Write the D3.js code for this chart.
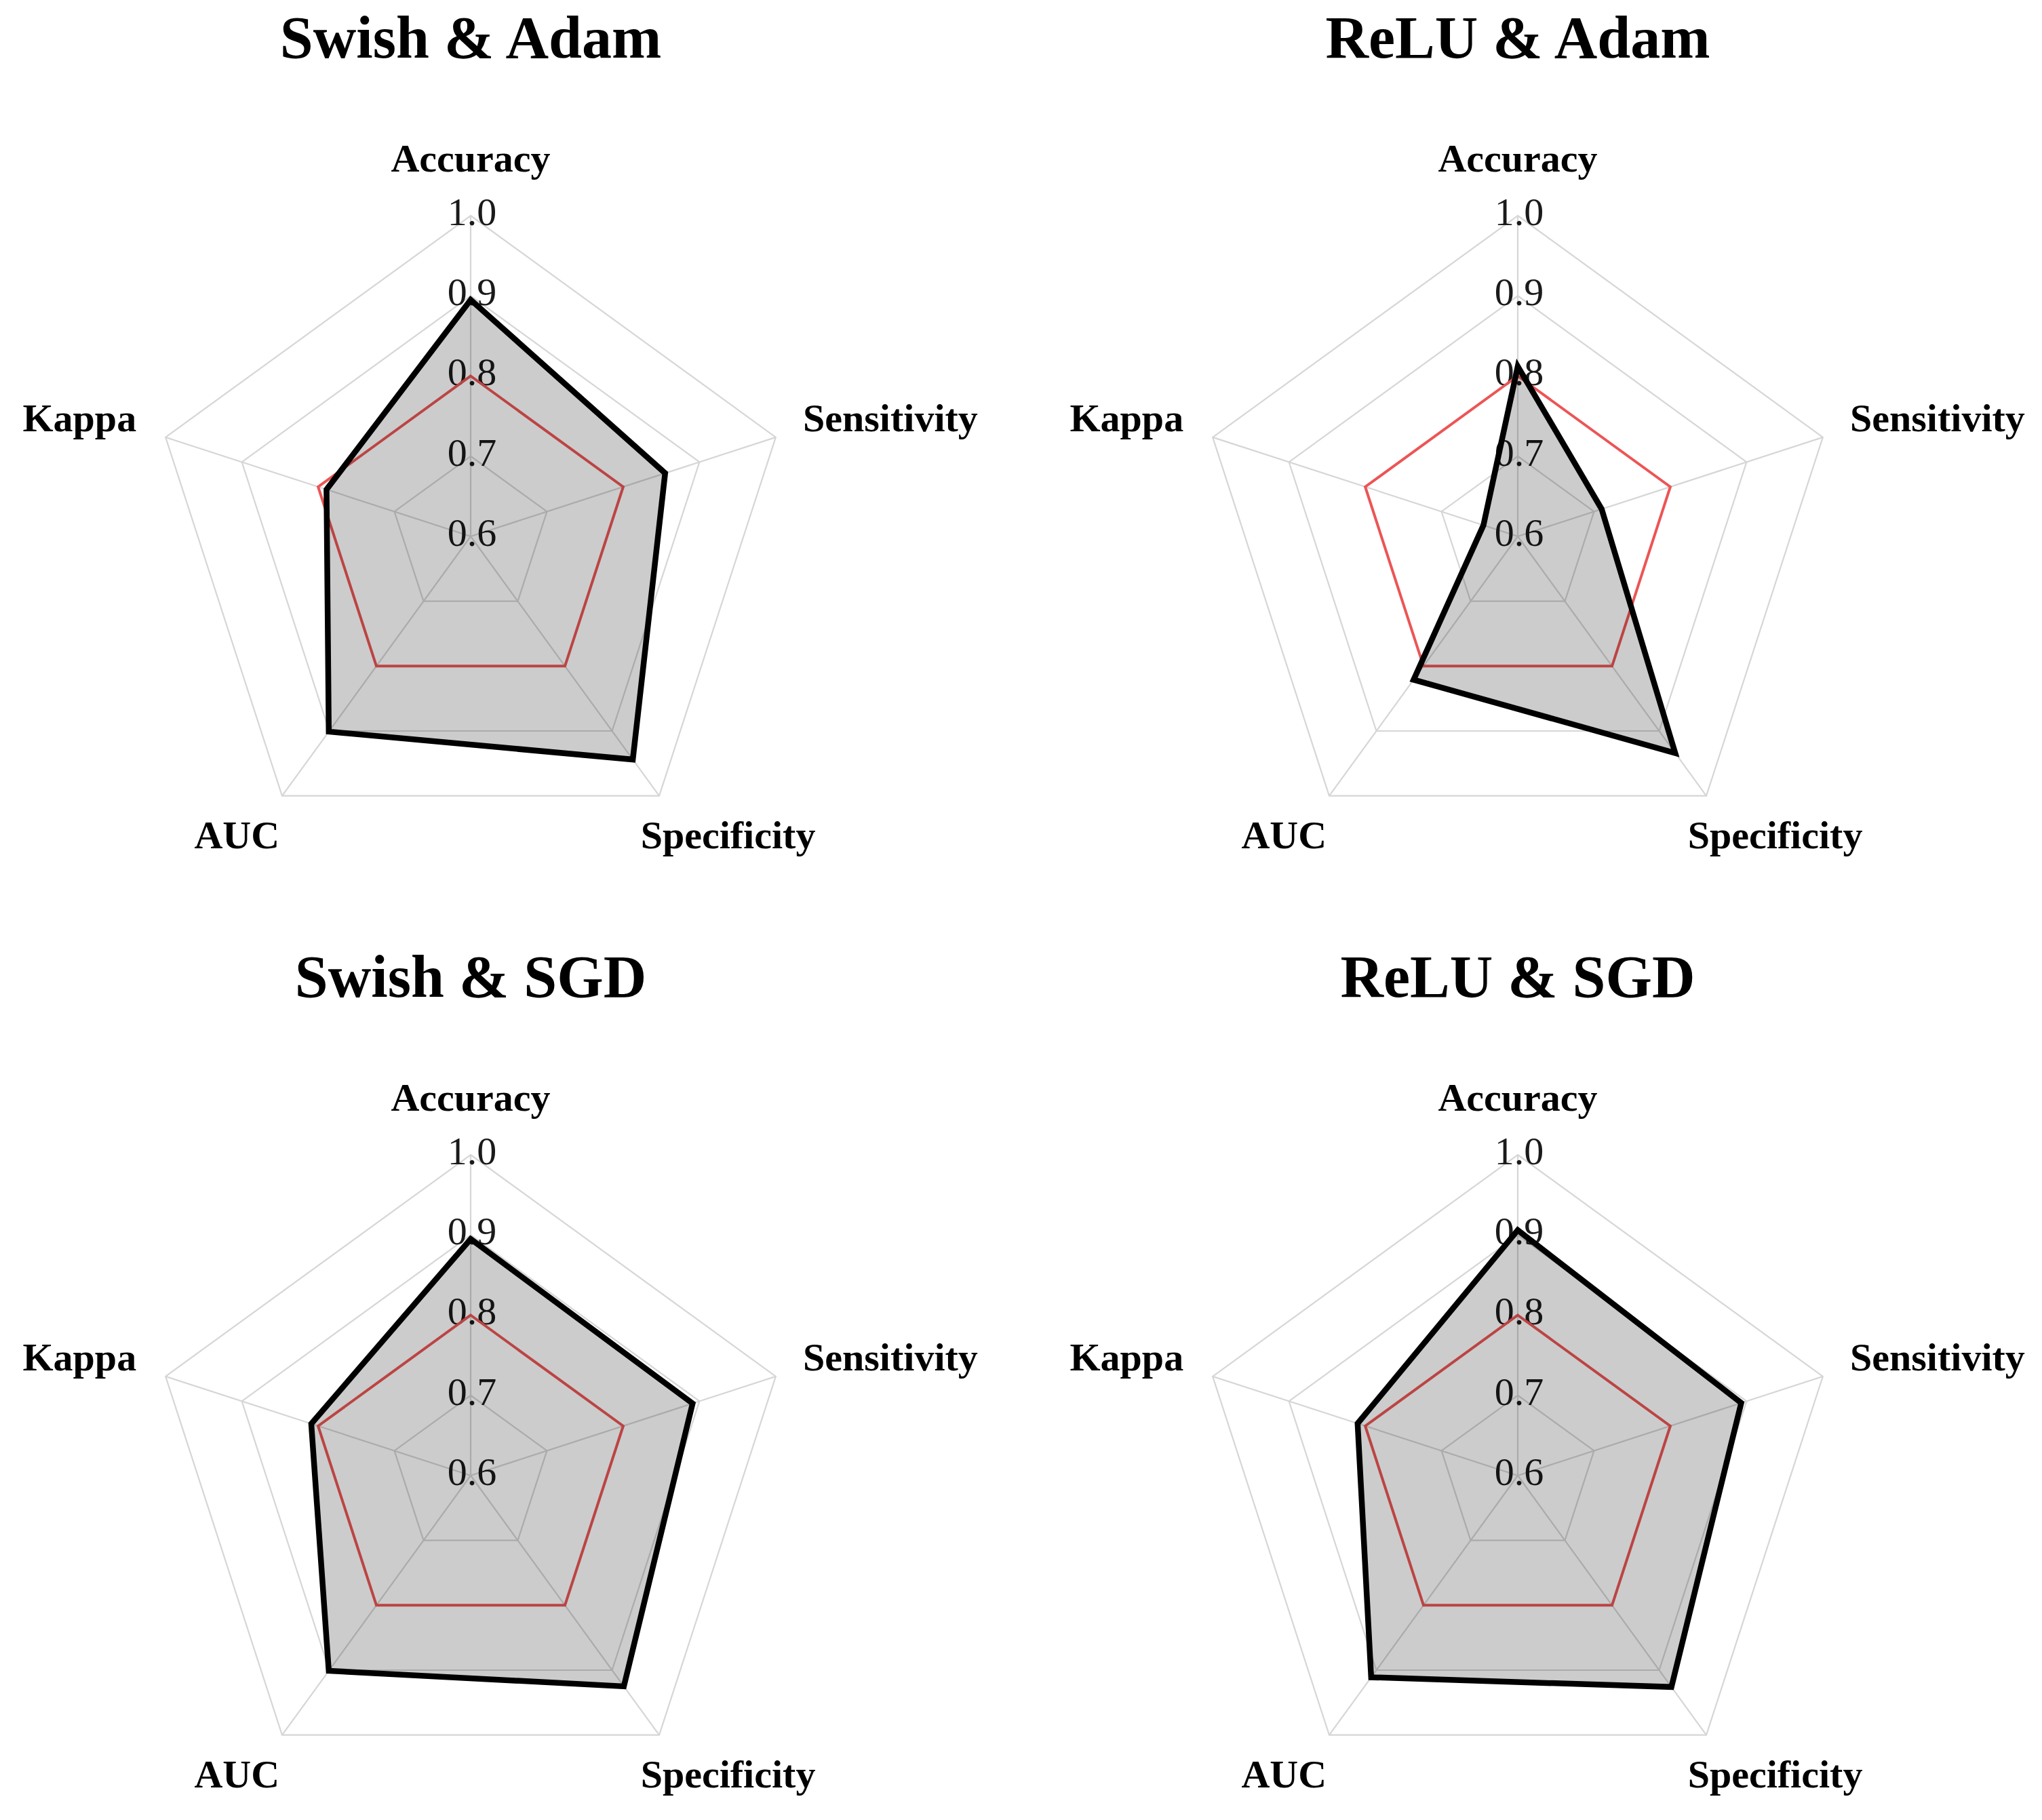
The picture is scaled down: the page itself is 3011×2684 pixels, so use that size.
<!DOCTYPE html>
<html>
<head>
<meta charset="utf-8">
<script src="https://cdn.jsdelivr.net/npm/d3@7"></script>
<style>
  html, body { margin: 0; padding: 0; background: #ffffff; }
  svg { display: block; }
</style>
</head>
<body>
<svg id="chart" width="3011" height="2684"></svg>
<script>
// ---------------- data ----------------
const axesNames = ["Accuracy", "Sensitivity", "Specificity", "AUC", "Kappa"];
const tickValues = [0.6, 0.7, 0.8, 0.9, 1.0];
const tickLabels = ["0.6", "0.7", "0.8", "0.9", "1.0"];
const panelTitles = ["Swish & Adam", "ReLU & Adam", "Swish & SGD", "ReLU & SGD"];
const swishAdam = [0.895, 0.855, 0.944, 0.901, 0.789];
const reluAdam  = [0.812, 0.710, 0.934, 0.821, 0.645];
const swishSgd  = [0.895, 0.891, 0.925, 0.901, 0.809];
const reluSgd   = [0.906, 0.893, 0.926, 0.911, 0.810];
const referenceLine = [0.8, 0.8, 0.8, 0.8, 0.8];
const panelSeries = [swishAdam, reluAdam, swishSgd, reluSgd];

// ---------------- layout ----------------
const W = 3011, H = 2684;
const R = 473;
const centers = [[694, 791], [2238, 791], [694, 2176], [2238, 2176]];
const font = "'Liberation Serif', 'Times New Roman', Times, serif";
// label offsets (relative to center, baseline), in units of R
const labelPos = [
  {x: 0,      y: -1.138, anchor: "middle"},
  {x: 1.036,  y: -0.328, anchor: "start"},
  {x: 0.530,  y: 0.973,  anchor: "start"},
  {x: -0.596, y: 0.973,  anchor: "end"},
  {x: -1.042, y: -0.328, anchor: "end"}
];

const svg = d3.select("#chart");
svg.append("rect").attr("width", W).attr("height", H).attr("fill", "#ffffff");

const r = d3.scaleLinear().domain([0.6, 1.0]).range([0, R]);
const ang = d3.scaleLinear().domain([0, axesNames.length]).range([0, 2 * Math.PI]);
const radial = d3.lineRadial()
  .angle((d, i) => ang(i))
  .radius(d => r(d))
  .curve(d3.curveLinearClosed);

panelTitles.forEach((title, p) => {
  const [cx, cy] = centers[p];
  const g = svg.append("g").attr("transform", `translate(${cx},${cy})`);

  // title
  g.append("text")
    .attr("x", 0).attr("y", 85 - 791)
    .attr("text-anchor", "middle")
    .attr("font-family", font).attr("font-weight", "bold")
    .attr("font-size", 88).attr("fill", "#000")
    .text(title);

  // grid rings
  tickValues.slice(1).forEach(v => {
    g.append("path")
      .attr("d", radial(axesNames.map(() => v)))
      .attr("fill", "none").attr("stroke", "#d6d6d6").attr("stroke-width", 2.2);
  });
  // spokes
  axesNames.forEach((a, i) => {
    const t = ang(i);
    g.append("line")
      .attr("x1", 0).attr("y1", 0)
      .attr("x2", r(1.0) * Math.sin(t)).attr("y2", -r(1.0) * Math.cos(t))
      .attr("stroke", "#d6d6d6").attr("stroke-width", 2.2);
  });

  // tick labels on first axis
  tickValues.forEach((v, k) => {
    g.append("text")
      .attr("x", 2).attr("y", -r(v))
      .attr("dy", "0.24em")
      .attr("text-anchor", "middle")
      .attr("font-family", font).attr("font-size", 58).attr("fill", "#1a1a1a")
      .text(tickLabels[k]);
  });

  // reference (red)
  g.append("path")
    .attr("d", radial(referenceLine))
    .attr("fill", "none").attr("stroke", "#ec5555").attr("stroke-width", 4)
    .attr("stroke-linejoin", "miter");

  // series (black with translucent fill)
  g.append("path")
    .attr("d", radial(panelSeries[p]))
    .attr("fill", "rgba(0,0,0,0.2)")
    .attr("stroke", "#000").attr("stroke-width", 8.5)
    .attr("stroke-linejoin", "miter").attr("stroke-miterlimit", 10);

  // axis labels
  axesNames.forEach((a, i) => {
    const lp = labelPos[i];
    g.append("text")
      .attr("x", lp.x * R).attr("y", lp.y * R)
      .attr("text-anchor", lp.anchor)
      .attr("font-family", font).attr("font-weight", "bold")
      .attr("font-size", 58).attr("fill", "#000")
      .text(a);
  });
});
</script>
</body>
</html>
